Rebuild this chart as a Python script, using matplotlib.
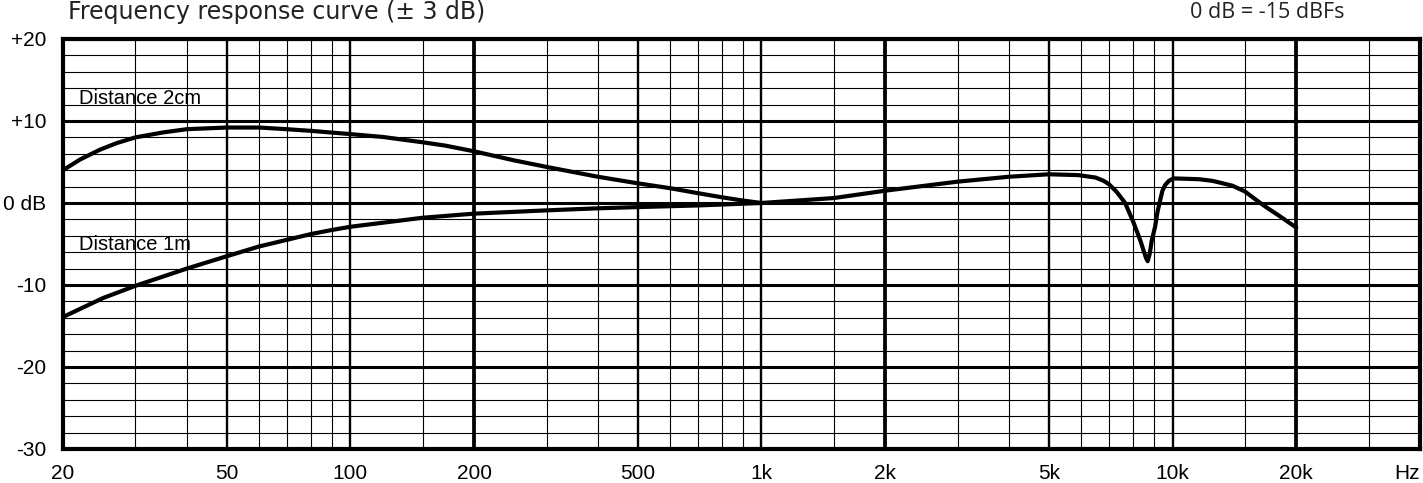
import numpy as np
import matplotlib
matplotlib.use("Agg")
from matplotlib import pyplot as plt

# frequency response read from the sheet
freq_2cm = [20, 22, 24.6, 27, 30, 35, 40, 50, 60, 70, 80, 100, 120, 150, 170,
            200, 250, 300, 400, 500, 600, 700, 800, 900, 1000]
db_2cm = [4.0, 5.3, 6.5, 7.3, 8.0, 8.6, 9.0, 9.2, 9.2, 9.0, 8.8, 8.4, 8.05, 7.4,
          7.0, 6.3, 5.2, 4.4, 3.2, 2.4, 1.8, 1.2, 0.7, 0.3, 0.0]

freq_1m = [20, 25, 30, 40, 50, 60, 70, 80, 90, 100, 150, 200, 300, 400, 500,
           700, 1000]
db_1m = [-13.9, -11.6, -10.1, -8.0, -6.5, -5.3, -4.5, -3.8, -3.3, -2.9, -1.8,
         -1.3, -0.9, -0.65, -0.5, -0.3, 0.0]

# both distances share the curve above 1 kHz
freq_hi = [1000, 1500, 2000, 3000, 4000, 5000, 5900, 6500, 6800, 7000, 7300,
           7670, 8040, 8340, 8620, 8700, 8800, 8900, 9070, 9200, 9450, 9600,
           9800, 10050, 11600, 12500, 13000, 14000, 15000, 16200, 17000, 18100,
           20000]
db_hi = [0.0, 0.6, 1.5, 2.6, 3.2, 3.5, 3.4, 3.1, 2.7, 2.3, 1.4, 0.0, -2.4,
         -4.5, -6.7, -7.1, -6.2, -4.6, -2.9, -1.0, 1.5, 2.2, 2.7, 3.0, 2.9, 2.7,
         2.5, 2.1, 1.4, 0.15, -0.6, -1.5, -3.0]

x_ticks = [20, 50, 100, 200, 500, 1000, 2000, 5000, 10000, 20000]
x_labels = ["20", "50", "100", "200", "500", "1k", "2k", "5k", "10k", "20k"]
y_ticks = [20, 10, 0, -10, -20, -30]
y_labels = ["+20", "+10", "0 dB", "-10", "-20", "-30"]

grid_minor = [30, 40, 60, 70, 80, 90, 150, 300, 400, 600, 700, 800, 900, 1500,
              3000, 4000, 6000, 7000, 8000, 9000, 15000, 30000]
grid_mid = [50, 100, 500, 1000, 5000, 10000]
grid_bold = [200, 2000, 20000]

fig = plt.figure(figsize=(14.23, 4.83), dpi=100)
ax = fig.add_axes([0.0443, 0.0704, 0.9536, 0.8489])
ax.set_xscale("log")
ax.set_xlim(20, 40000)
ax.set_ylim(-30, 20)

for v in range(-30, 21, 2):
    ax.axhline(v, color="black", lw=2.2 if v % 10 == 0 else 0.8, zorder=1)
for f in grid_minor:
    ax.axvline(f, color="black", lw=0.8, zorder=1)
for f in grid_mid:
    ax.axvline(f, color="black", lw=1.7, zorder=1)
for f in grid_bold:
    ax.axvline(f, color="black", lw=2.7, zorder=1)

kw = dict(color="black", lw=3.0, solid_capstyle="round", solid_joinstyle="round", zorder=3)
ax.plot(freq_2cm, db_2cm, **kw)
ax.plot(freq_1m, db_1m, **kw)
ax.plot(freq_hi, db_hi, **kw)

for s in ax.spines.values():
    s.set_linewidth(3.0)

ax.set_xticks(x_ticks)
ax.set_xticklabels(x_labels)
ax.xaxis.set_minor_locator(matplotlib.ticker.NullLocator())
ax.set_yticks(y_ticks)
ax.set_yticklabels(y_labels)
ax.tick_params(length=0, labelsize=15)
ax.tick_params(axis="x", pad=11)
ax.tick_params(axis="y", pad=12)
for lab in ax.get_xticklabels() + ax.get_yticklabels():
    lab.set_fontfamily("Liberation Sans")

ax.text(21.9, 12.7, "Distance 2cm", fontsize=14.5, family="Liberation Sans", va="center")
ax.text(21.9, -5.1, "Distance 1m", fontsize=14.5, family="Liberation Sans", va="center")

fig.text(0.998, 0.0207, "Hz", fontsize=15, family="Liberation Sans", ha="right", va="center")
fig.text(0.048, 0.975, "Frequency response curve (\u00b1 3 dB)", fontsize=17,
         family="DejaVu Sans", color="#222222", va="center")
fig.text(0.945, 0.975, "0 dB = -15 dBFs", fontsize=15.5, family=["Open Sans", "DejaVu Sans"],
         color="#222222", ha="right", va="center")

fig.savefig("out.png", dpi=100)
